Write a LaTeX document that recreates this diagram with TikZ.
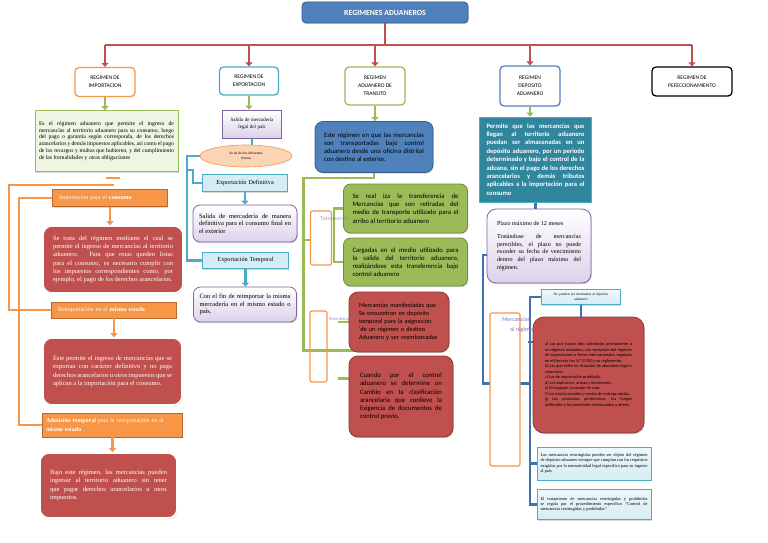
\documentclass[tikz,border=0pt]{standalone}
\usepackage{fontspec}
\setmainfont{Liberation Serif}
\newfontfamily\calfont{Carlito}
\setlength{\parindent}{0pt}
\hyphenpenalty=10000
\exhyphenpenalty=10000
\usetikzlibrary{arrows.meta,calc,positioning,shapes.geometric,shadows,backgrounds}
\definecolor{titleblue}{HTML}{4F81BD}
\definecolor{titleedge}{HTML}{385D8A}
\definecolor{busred}{HTML}{C0504D}
\definecolor{darkred}{HTML}{8C3836}
\definecolor{leafgreen}{HTML}{9BBB59}
\definecolor{greenedge}{HTML}{71893F}
\definecolor{palegreen}{HTML}{EEF5E1}
\definecolor{orng}{HTML}{F79646}
\definecolor{orngedge}{HTML}{B9682B}
\definecolor{peach}{HTML}{FBD4B4}
\definecolor{tealc}{HTML}{4BACC6}
\definecolor{darkteal}{HTML}{31859C}
\definecolor{paleteal}{HTML}{D4EDF4}
\definecolor{purp}{HTML}{8064A2}
\definecolor{lavender}{HTML}{DCD2EA}
\definecolor{labelpurp}{HTML}{7D72C4}
\definecolor{depblue}{HTML}{3F70B0}
\tikzset{>=Latex,
  softshadow/.style={drop shadow={shadow xshift=.8pt,shadow yshift=-1.2pt,opacity=.3}},
  titlebox/.style={fill=titleblue,draw=titleedge,line width=.8pt,rounded corners=4pt,text=white,
    font=\calfont\bfseries\fontsize{7.8}{9}\selectfont,softshadow},
  header/.style={draw,line width=1.3pt,rounded corners=4pt,fill=white,align=center,
    font=\calfont\fontsize{5.6}{8}\selectfont},
  bus/.style={draw=busred,line width=2pt},
  busarrow/.style={draw=busred,line width=2.8pt,-{Triangle[width=7pt,length=4pt]}},
  grnarrow/.style={draw=leafgreen,line width=2.8pt,-{Triangle[width=7pt,length=4pt]}},
  impnote/.style={draw=leafgreen,fill=palegreen,line width=.8pt,align=justify,inner xsep=4pt,
    font=\fontsize{5.7}{6.9}\selectfont,softshadow},
  oband/.style={draw=orngedge,fill=orng,line width=.6pt,text=white,align=left,
    font=\fontsize{6}{8.5}\selectfont,softshadow},
  impred/.style={fill=busred,draw=white,line width=1.6pt,rounded corners=9pt,text=white,align=justify,
    inner xsep=10pt,font=\fontsize{6.5}{8.3}\selectfont,softshadow},
  impline/.style={draw=orng,line width=2.2pt},
  orngarrow/.style={draw=orng,line width=2.8pt,-{Triangle[width=7pt,length=4pt]}},
  purpbox/.style={draw=purp,line width=.8pt,top color=white,bottom color=lavender,inner xsep=6pt,
    font=\fontsize{6.5}{7.6}\selectfont,softshadow},
  tealband/.style={draw=tealc,fill=paleteal,line width=.8pt,align=center,
    font=\fontsize{6.2}{7}\selectfont,softshadow},
  expline/.style={draw=tealc,line width=2.2pt},
  tealarrow/.style={draw=tealc,line width=2.8pt,-{Triangle[width=7pt,length=4pt]}},
  trabox/.style={line width=.8pt,align=justify,inner xsep=9pt,font=\calfont\fontsize{6.7}{8.2}\selectfont,softshadow},
  trline/.style={draw=leafgreen,line width=2.2pt},
  bracket/.style={draw=orng,line width=1.2pt,rounded corners=2pt,inner sep=0pt},
  grplabel/.style={text=labelpurp,inner sep=0pt,align=left},
  depline/.style={draw=depblue,line width=2.2pt},
  bluenote/.style={draw=tealc,top color=paleteal!40,bottom color=paleteal,line width=.6pt,softshadow}}

\begin{document}
\begin{tikzpicture}[x=1pt,y=-1pt]
\useasboundingbox (0,0) rectangle (768,543);
% titulo y encabezados
\node[titlebox,minimum width=166,minimum height=21] (title) at (385,12.5) {REGIMENES ADUANEROS};
\node[header,draw=orng,minimum width=60,minimum height=29] (hImp) at (105,82) {REGIMEN DE\\IMPORTACION};
\node[header,draw=tealc,minimum width=59,minimum height=28] (hExp) at (249,81) {REGIMEN DE\\EXPORTACION};
\node[header,draw=leafgreen,minimum width=60,minimum height=38] (hTra) at (375,86) {REGIMEN\\ADUANERO DE\\TRANSITO};
\node[header,draw=titleblue,minimum width=60,minimum height=40] (hDep) at (530,86) {REGIMEN\\DEPOSITO\\ADUANERO};
\node[header,draw=black,minimum width=80,minimum height=29] (hPer) at (692,81.5) {REGIMEN DE\\PEFECCIONAMIENTO};

% importacion
\node[impnote,text width=135,minimum height=61] (impDef) at (106.5,141) {Es el régimen aduanero que permite el ingreso de mercancías al territorio aduanero para su consumo, luego del pago o garantía según corresponda, de los derechos arancelarios y demás impuestos aplicables, así como el pago de los recargos y multas que hubieren, y del cumplimiento de las formalidades y otras obligaciones\par\vspace{13pt}};
\node[oband,text width=108,minimum height=17] (impC) at (110,198) {\hspace*{3pt}Importación para el \textbf{consumo}};
\node[impred,text width=120,minimum height=67] (impCtxt) at (113,259.5) {Se trata del régimen mediante el cual se permite el ingreso de mercancías al territorio aduanero. Para que estas queden listas para el consumo, es necesario cumplir con los impuestos correspondientes como, por ejemplo, el pago de los derechos arancelarios.};
\node[oband,text width=118,minimum height=16] (impR) at (114,310) {\hspace*{3pt}Reimportación en el \textbf{mismo estado}};
\node[impred,text width=119,minimum height=67] (impRtxt) at (112.5,371.5) {Este permite el ingreso de mercancías que se exportan con carácter definitivo y no paga derechos arancelarios u otros impuestos que se aplican a la importación para el consumo.};
\node[oband,text width=133,minimum height=24,font=\fontsize{6}{9}\selectfont] (impA) at (112.5,425) {\textbf{Admisión temporal} para la reexportación en el\\\textbf{mismo estado}};
\node[impred,text width=117,minimum height=65] (impAtxt) at (108.5,485.5) {Bajo este régimen, las mercancías pueden ingresar al territorio aduanero sin tener que pagar derechos arancelarios u otros impuestos.};

% exportacion
\node[purpbox,align=center,text width=47,minimum height=28,font=\fontsize{5}{7}\selectfont] (expS) at (252,124) {Salida de mercadería\\legal del país};
\node[ellipse,draw=orng,fill=peach,line width=.6pt,minimum width=92,minimum height=22,inner sep=0pt,align=center,font=\fontsize{3.6}{5}\selectfont] (expF) at (246,156) {Se da de dos diferentes\\formas};
\node[tealband,text width=78,minimum height=17] (expD) at (245,183) {Exportación Definitiva};
\node[purpbox,rounded corners=7pt,align=justify,text width=92,minimum height=37] (expDtxt) at (245,223.5) {Salida de mercadería de manera definitiva para el consumo final en el exterior};
\node[tealband,text width=79,minimum height=16] (expT) at (245.5,260.5) {Exportación Temporal};
\node[purpbox,rounded corners=7pt,align=justify,text width=91,minimum height=35] (expTtxt) at (245,304.5) {Con el fin de reimportar la misma mercadería en el mismo estado o país.};

% transito
\node[trabox,fill=titleblue,draw=titleedge,rounded corners=8pt,text width=100,minimum height=51] (traDef) at (374,147) {Este régimen en que las mercancías son transportadas bajo control aduanero desde una oficina distrital con destino al exterior.};
\node[bracket,minimum width=21,minimum height=54] (trBrT) at (321,238) {};
\node[bracket,minimum width=17,minimum height=71] (trBrR) at (318.5,346.5) {};
\node[trabox,fill=leafgreen,draw=greenedge,rounded corners=7pt,text width=106,minimum height=49] (traT1) at (405.5,208.5) {Se real iza la transferencia de Mercancías que son retiradas del medio de transporte utilizado para el arribo al territorio aduanero};
\node[trabox,fill=leafgreen,draw=greenedge,rounded corners=7pt,text width=106,minimum height=48] (traT2) at (405.5,262) {Cargadas en el medio utilizado para la salida del territorio aduanero, realizándose esta transferencia bajo control aduanero};
\node[trabox,fill=busred,draw=darkred,rounded corners=9pt,align=left,inner xsep=10pt,text width=80,minimum height=60,font=\calfont\fontsize{6.3}{7.9}\selectfont] (traR1) at (399,322) {Mercancías manifestadas que\\Se encuentran en depósito\\temporal para la asignación\\'de un régimen o destino\\Aduanero y ser reembarcadas};
\node[trabox,fill=busred,draw=darkred,rounded corners=9pt,inner xsep=11pt,text width=82,minimum height=81] (traR2) at (401,396.5) {Cuando por el control aduanero se determine un Cambio en la clasificación arancelaria que conlleve la Exigencia de documentos de control previo.};
\node[grplabel,anchor=west,opacity=.7,font=\calfont\fontsize{6}{7}\selectfont] (trTlab) at (320,218) {Transbordo};
\node[grplabel,anchor=west,opacity=.8,font=\calfont\fontsize{4.6}{6}\selectfont] (trRlab) at (329,319) {Reembarque};

% deposito
\node[trabox,fill=darkteal,draw=tealc,text=white,inner xsep=7pt,text width=98,minimum height=85,
  font=\calfont\bfseries\fontsize{6.6}{8.4}\selectfont] (depDef) at (535.5,159.5) {Permite que las mercancías que llegan al territorio aduanero puedan ser almacenadas en un depósito aduanero, por un periodo determinado y bajo el control de la aduana, sin el pago de los derechos arancelarios y demás tributos aplicables a la importación para el consumo};
\node[purpbox,rounded corners=9pt,align=justify,inner xsep=10pt,text width=84,minimum height=74,font=\fontsize{6.1}{7.7}\selectfont] (depPl) at (539,246) {Plazo máximo de 12 meses\par\vspace{5pt}Tratándose de mercancías perecibles, el plazo no puede exceder su fecha de vencimiento dentro del plazo máximo del régimen.\par\vspace{6pt}};
\node[grplabel,anchor=north west,font=\calfont\fontsize{6}{10}\selectfont] (depLab) at (502,317) {Mercancías\\\hspace*{8pt}al régimen};
\node[bluenote,align=center,text width=72,minimum height=15,font=\fontsize{3.6}{4.6}\selectfont] (depNo) at (581,297) {No pueden ser destinadas al depósito\\aduanero};
\node[trabox,fill=busred,draw=darkred,rounded corners=11pt,inner xsep=12pt,text width=87,minimum height=116,
  font=\calfont\fontsize{4.3}{5.5}\selectfont] (depList) at (588.5,375) {a) Las que hayan sido solicitadas previamente a un régimen aduanero, con excepción del régimen de exposiciones o ferias internacionales regulado en el Decreto Ley Nº 21700 y su reglamento.\\ b) Las que estén en situación de abandono legal o voluntario.\\ c) Las de importación prohibida.\\ d) Los explosivos, armas y municiones.\\ e) El equipaje y menaje de casa.\\ f) Los envíos postales y envíos de entrega rápida.\\ g) Los productos pirotécnicos, los fuegos artificiales y los materiales relacionados o afines.};
\node[bluenote,align=justify,text width=107,minimum height=33,font=\fontsize{4.4}{5.4}\selectfont] (depR1) at (594,463.5) {Las mercancías restringidas pueden ser objeto del régimen de depósito aduanero siempre que cumplan con los requisitos exigidos por la normatividad legal específica para su ingreso al país};
\node[bluenote,align=justify,text width=107,minimum height=30,font=\fontsize{4.4}{5.4}\selectfont] (depR2) at (594,504.5) {El tratamiento de mercancías restringidas y prohibidas se regula por el procedimiento específico “Control de mercancías restringidas y prohibidas”};

% conectores
\begin{pgfonlayer}{background}
\fill[white] (0,0) rectangle (768,543);
\draw[bus] (title.south) -- ++(0,22) coordinate (busmid);
\draw[bus] (hImp |- busmid) -- (hPer |- busmid);
\draw[impline] ($(impDef.south)+(-1,6)$) -- ++(14,0);
\draw[impline] ($(impDef.south)+(7,13)$) -| ($(impR.west)+(-42,0)$) -- (impR.west);
\draw[impline] (impC.west) -- ++(-33,0) |- (impA.west);
\draw[expline] (expS.south) -- (expS.south |- expF.north);
\draw[expline] (expF.west) -| ($(expT.west)+(-15,0)$) -- (expT.west);
\draw[expline] (expD.west) -- ++(-9,0) |- ($(expD.west)+(-15,-13)$);
\draw[trline] (traDef.south) -- ++(0,5) -| ($(trBrR.west)+(-6,4)$) -- ++(60,0);
\draw[trline] ($(trBrT.west)+(-6,2)$) -- ++(6,0);
\draw[trline] (traT1.west) -- ++(-9,0) |- (traT2.west);
\draw[trline] (traR1.west) -- ++(-11,0);
\draw[trline] ([yshift=18]traR2.west) -- ++(-11,0);
\draw[depline] (depDef.south) -- (depDef.south |- depPl.north);
\draw[depline] ([yshift=-9]depPl.west) -- ++(-4,0) |- ($(depR2.west)+(-7,-121)$);
\draw[depline] (depNo.west) -| ($(depR2.west)+(-7,0)$) -- (depR2.west);
\draw[depline] (depR1.west) -- ++(-7,0);
\draw[depline] ([yshift=33]depList.west) -- ++(-5,0);
\node[bracket,fill=white,minimum width=30,minimum height=153] (depBr) at (505,389.5) {};
\end{pgfonlayer}
\draw[depline] (depNo.south) -- (depNo.south |- depList.north);
\foreach \h in {hImp,hExp,hTra,hDep,hPer} {\draw[busarrow] (\h |- busmid) -- (\h.north);}
\foreach \a/\b in {hImp/impDef,hExp/expS,hTra/traDef,hDep/depDef} {\draw[grnarrow] (\a.south) -- (\a.south |- \b.north);}
\foreach \a/\b in {impC/impCtxt,impR/impRtxt,impA/impAtxt} {\draw[orngarrow] (\a.south) -- (\a.south |- \b.north);}
\foreach \a/\b in {expD/expDtxt,expT/expTtxt} {\draw[tealarrow] (\a.south) -- (\a.south |- \b.north);}
\end{tikzpicture}
\end{document}
